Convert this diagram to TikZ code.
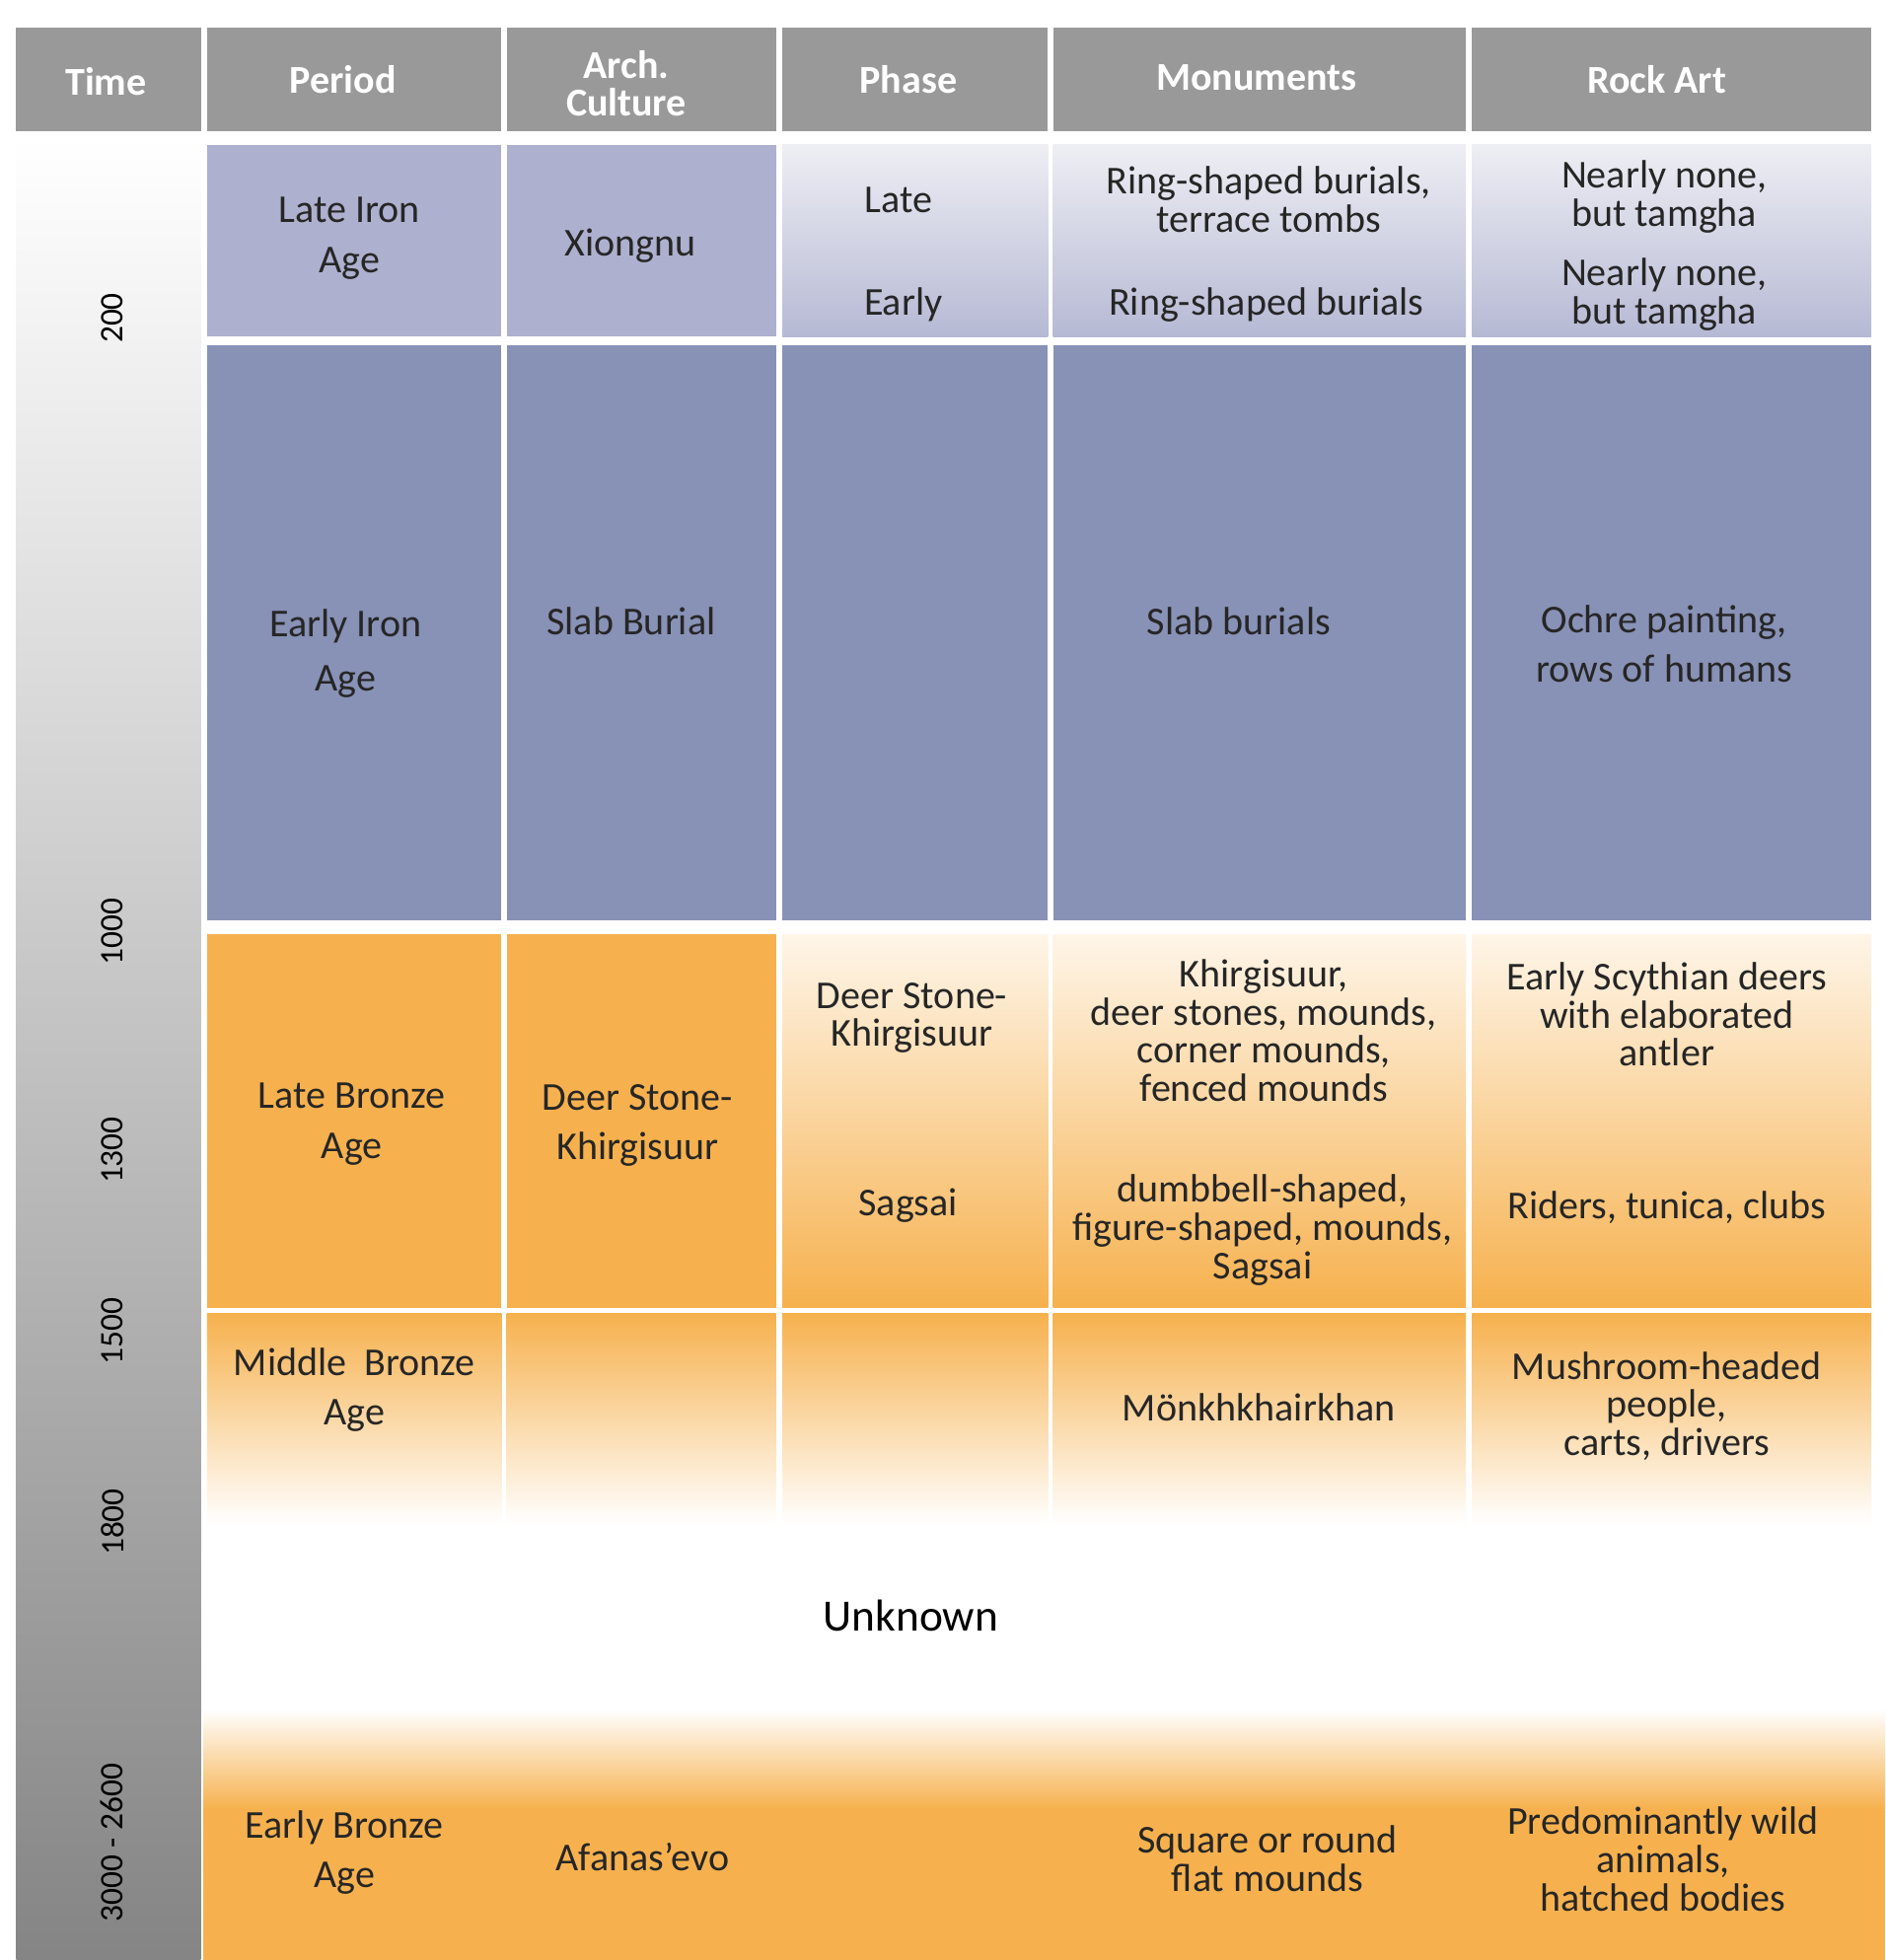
\documentclass[tikz,border=0pt]{standalone}
\usepackage{fontspec}
\setmainfont{Carlito}
\begin{document}
\begin{tikzpicture}[x=0.01cm,y=-0.01cm,
  txt/.style={align=center,font=\fontsize{9}{8.7}\selectfont,text=black!85},
  wtxt/.style={align=center,font=\fontsize{9}{11.3}\selectfont,text=black!85},
  hdr/.style={align=center,font=\bfseries\fontsize{9}{8.6}\selectfont,text=white},
  hcell/.style={fill=black!40,draw=none},
  tl/.style={rotate=90,font=\fontsize{7.5}{8}\selectfont}]
\definecolor{liA}{HTML}{ADB0CE}\definecolor{liT}{HTML}{EEEEF4}\definecolor{liB}{HTML}{B6B9D4}
\definecolor{ei}{HTML}{8891B6}\definecolor{or}{HTML}{F6B14E}\definecolor{orT}{HTML}{FEF5E8}
\useasboundingbox (0,0) rectangle (1511,1571);
\fill[white] (0,0) rectangle (1511,1571);
% header
\fill[hcell] (13,22) rectangle (161,105);
\fill[hcell] (166,22) rectangle (402,105);
\fill[hcell] (406,22) rectangle (622,105);
\fill[hcell] (627,22) rectangle (840,105);
\fill[hcell] (844,22) rectangle (1175,105);
\fill[hcell] (1180,22) rectangle (1500,105);
\node[hdr] (h1) at (85,65) {Time};
\node[hdr] (h2) at (275,64) {Period};
\node[hdr] (h3) at (502,67) {Arch.\\Culture};
\node[hdr] (h4) at (728,64) {Phase};
\node[hdr] (h5) at (1007,62) {Monuments};
\node[hdr] (h6) at (1328,64) {Rock Art};
% time bar
\shade[top color=white,bottom color=black!48] (13,110) rectangle (161,1571);
\node[tl] (t1) at (90,255) {200};
\node[tl] (t2) at (90,747) {1000};
\node[tl] (t3) at (90,922) {1300};
\node[tl] (t4) at (90,1067) {1500};
\node[tl] (t5) at (90,1220) {1800};
\node[tl] (t6) at (90,1477) {3000 - 2600};
% late iron
\fill[liA] (166,116) rectangle (402,270);
\fill[liA] (406,116) rectangle (622,270);
\foreach \a/\b in {627/840,844/1175,1180/1500}
  \shade[top color=liT,bottom color=liB] (\a,116) rectangle (\b,270);
% early iron
\foreach \a/\b in {166/402,406/622,627/840,844/1175,1180/1500}
  \fill[ei] (\a,277) rectangle (\b,738);
% late bronze
\fill[or] (166,749) rectangle (402,1048);
\fill[or] (406,749) rectangle (622,1048);
\foreach \a/\b in {627/840,844/1175,1180/1500}
  \shade[top color=orT,bottom color=or] (\a,749) rectangle (\b,1048);
% middle bronze
\foreach \a/\b in {166/402,406/622,627/840,844/1175,1180/1500}
  \shade[top color=or,bottom color=white] (\a,1053) rectangle (\b,1222);
% early bronze
\shade[top color=white,bottom color=or] (163,1370) rectangle (1511,1450);
\fill[or] (163,1449) rectangle (1511,1571);
% texts
\node[wtxt] (a1) at (280,191) {Late Iron\\Age};
\node[txt] (a2) at (505,197) {Xiongnu};
\node[txt] (a3) at (720,160) {Late};
\node[txt] (a4) at (724,244) {Early};
\node[txt] (a5) at (1017,160) {Ring-shaped burials,\\terrace tombs};
\node[txt] (a6) at (1015,244) {Ring-shaped burials};
\node[txt] (a7) at (1334,158) {Nearly none,\\but tamgha};
\node[txt] (a8) at (1334,236) {Nearly none,\\but tamgha};
\node[txt] (b1) at (277,524) {Early Iron\\[0.42em]Age};
\node[txt] (b2) at (506,498) {Slab Burial};
\node[txt] (b3) at (993,498) {Slab burials};
\node[wtxt] (b4) at (1334,516) {Ochre painting,\\rows of humans};
\node[wtxt] (c1) at (282,901) {Late Bronze\\Age};
\node[wtxt] (c2) at (511,902) {Deer Stone-\\Khirgisuur};
\node[txt] (c3) at (731,816) {Deer Stone-\\Khirgisuur};
\node[txt] (c4) at (728,966) {Sagsai};
\node[txt] (c5) at (1013,826) {Khirgisuur,\\deer stones, mounds,\\corner mounds,\\fenced mounds};
\node[txt] (c6) at (1012,986) {dumbbell-shaped,\\figure-shaped, mounds,\\Sagsai};
\node[txt] (c7) at (1336,813) {Early Scythian deers\\with elaborated\\antler};
\node[txt] (c8) at (1336,968) {Riders, tunica, clubs};
\node[wtxt] (d1) at (284,1114) {Middle\ \ Bronze\\Age};
\node[txt] (d2) at (1009,1128) {Mönkhkhairkhan};
\node[txt] (d3) at (1336,1127) {Mushroom-headed\\people,\\carts, drivers};
\node[align=center,font=\fontsize{10.2}{10}\selectfont] (u) at (730,1295) {Unknown};
\node[wtxt] (e1) at (276,1485) {Early Bronze\\Age};
\node[txt] (e2) at (515,1488) {Afanas’evo};
\node[txt] (e3) at (1016,1490) {Square or round\\flat mounds};
\node[txt] (e4) at (1333,1490) {Predominantly wild\\animals,\\hatched bodies};
\end{tikzpicture}
\end{document}
